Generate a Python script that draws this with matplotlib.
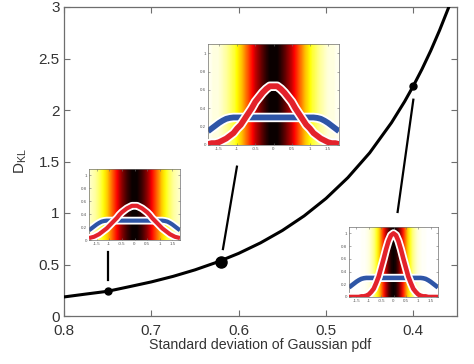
#!/usr/bin/env python
import numpy as np
import matplotlib
matplotlib.use('Agg')
import matplotlib.pyplot as plt
import matplotlib.patheffects as pe

# main curve
sigma = [0.800, 0.775, 0.750, 0.725, 0.700, 0.675, 0.650, 0.625, 0.600, 0.575,
         0.550, 0.525, 0.500, 0.475, 0.450, 0.425, 0.410, 0.400, 0.390, 0.380,
         0.370, 0.360, 0.355]
dkl = [0.185, 0.213, 0.240, 0.285, 0.331, 0.385, 0.448, 0.522, 0.608, 0.710,
       0.830, 0.972, 1.141, 1.343, 1.584, 1.877, 2.082, 2.234, 2.398, 2.577,
       2.773, 2.986, 3.100]

# highlighted points
pt_sigma = [0.75, 0.62, 0.40]
pt_dkl = [0.24, 0.52, 2.23]
pt_size = [5, 8, 5]

# leader lines (sigma0, dkl0, sigma1, dkl1)
leaders = [(0.750, 0.35, 0.750, 0.62),
           (0.618, 0.65, 0.602, 1.45),
           (0.418, 1.01, 0.400, 2.10)]

# inset curves, x = 0, 0.1, ... 1.8 (symmetric about 0)
inset_x_half = [0.0, 0.1, 0.2, 0.3, 0.4, 0.5, 0.6, 0.7, 0.8, 0.9,
                1.0, 1.1, 1.2, 1.3, 1.4, 1.5, 1.6, 1.7, 1.8]
red_075 = [0.53, 0.53, 0.51, 0.49, 0.46, 0.43, 0.39, 0.34, 0.30, 0.26,
           0.22, 0.18, 0.15, 0.12, 0.09, 0.07, 0.05, 0.04, 0.03]
red_062 = [0.64, 0.64, 0.61, 0.57, 0.52, 0.47, 0.40, 0.34, 0.28, 0.22,
           0.18, 0.13, 0.10, 0.07, 0.05, 0.03, 0.02, 0.02, 0.01]
red_040 = [1.00, 0.97, 0.88, 0.75, 0.60, 0.46, 0.32, 0.22, 0.13, 0.08,
           0.04, 0.02, 0.01, 0.01, 0.00, 0.00, 0.00, 0.00, 0.00]
blue = [0.30, 0.30, 0.30, 0.30, 0.30, 0.30, 0.30, 0.30, 0.30, 0.30,
        0.30, 0.30, 0.295, 0.285, 0.265, 0.24, 0.21, 0.18, 0.15]

GRAY = '#6e6e6e'
TXT = '#333333'
RED = '#e3222b'
BLUE = '#2e55a6'


def _mirror(half):
    half = list(half)
    return half[:0:-1] + half


def _plot_main(ax):
    ax.plot(sigma, dkl, color='black', linewidth=2.2, solid_capstyle='round', zorder=3)
    for s, d, m in zip(pt_sigma, pt_dkl, pt_size):
        ax.plot(s, d, 'o', color='black', markersize=m, zorder=4)
    for x0, y0, x1, y1 in leaders:
        ax.plot([x0, x1], [y0, y1], color='black', linewidth=1.6, zorder=3)

    ax.set_xlim(0.8, 0.35)
    ax.set_ylim(0, 3)
    ax.set_xticks([0.8, 0.7, 0.6, 0.5, 0.4])
    ax.set_yticks([0, 0.5, 1, 1.5, 2, 2.5, 3])
    ax.set_yticklabels(['0', '0.5', '1', '1.5', '2', '2.5', '3'])
    ax.tick_params(direction='in', length=4, width=0.8, color=GRAY, labelcolor=TXT,
                   labelsize=11, top=True, right=True)
    ax.tick_params(axis='x', pad=6)
    ax.tick_params(axis='y', pad=3)
    for sp in ax.spines.values():
        sp.set_color(GRAY)
        sp.set_linewidth(0.9)
    ax.set_xlabel('Standard deviation of Gaussian pdf', fontsize=10.2, color=TXT, labelpad=0)
    ax.set_ylabel(r'$\mathregular{D_{KL}}$', fontsize=11, color=TXT, labelpad=7)


def _plot_inset(fig, rect, red_half, lw):
    iax = fig.add_axes(rect)
    x = [-v for v in inset_x_half[:0:-1]] + list(inset_x_half)
    red = np.array(_mirror(red_half))
    blu = _mirror(blue)

    # background from the red pdf, black = high
    img = np.tile(red / red.max(), (2, 1))
    iax.imshow(img, cmap='hot_r', vmin=0, vmax=1, aspect='auto',
               interpolation='bilinear', extent=[x[0], x[-1], 0, 1.1], zorder=0)

    outline = [pe.Stroke(linewidth=lw + 2.6, foreground='white'), pe.Normal()]
    iax.plot(x, blu, color=BLUE, linewidth=lw, path_effects=outline,
             solid_capstyle='butt', zorder=2)
    iax.plot(x, red, color=RED, linewidth=lw, path_effects=outline,
             solid_capstyle='butt', zorder=3)

    iax.set_xlim(-1.8, 1.8)
    iax.set_ylim(0, 1.1)
    iax.set_xticks([-1.5, -1, -0.5, 0, 0.5, 1, 1.5])
    iax.set_xticklabels(['-1.5', '-1', '-0.5', '0', '0.5', '1', '1.5'])
    iax.set_yticks([0, 0.2, 0.4, 0.6, 0.8, 1])
    iax.set_yticklabels(['0', '0.2', '0.4', '0.6', '0.8', '1'])
    iax.tick_params(direction='in', length=1.5, width=0.4, color=GRAY, labelcolor='#555555',
                    labelsize=3.2, top=True, right=True, pad=1.5)
    for sp in iax.spines.values():
        sp.set_color(GRAY)
        sp.set_linewidth(0.5)
    return iax


def main():
    plt.rcParams['font.family'] = ['Liberation Sans', 'DejaVu Sans']
    fig = plt.figure(figsize=(4.74, 3.64), dpi=100)
    W, H = 474.0, 364.0
    ax = fig.add_axes([64 / W, 1 - 316 / H, (457 - 64) / W, (316 - 7) / H])
    _plot_main(ax)

    # insets placed in figure pixels
    _plot_inset(fig, [89 / W, 1 - 240 / H, 91 / W, 71 / H], red_075, 3.0)
    _plot_inset(fig, [208 / W, 1 - 145 / H, 131 / W, 101 / H], red_062, 4.2)
    _plot_inset(fig, [349 / W, 1 - 297 / H, 89 / W, 70 / H], red_040, 3.3)

    fig.savefig('out.png', dpi=100)


if __name__ == '__main__':
    main()
